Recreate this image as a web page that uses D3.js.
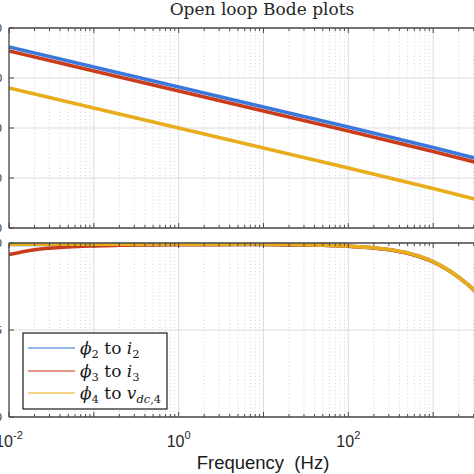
<!DOCTYPE html>
<html>
<head>
<meta charset="utf-8">
<script src="https://cdn.jsdelivr.net/npm/d3@7"></script>
<style>
  html, body { margin: 0; padding: 0; background: #fff; }
  svg { display: block; }
</style>
</head>
<body>
<svg id="chart" width="474" height="474"></svg>
<script>
// ---------------- data ----------------
const freqMag = [0.01, 0.1, 1, 10, 100, 1000, 10000];
const magBlue = [31, 11, -9, -29, -49, -69.5, -91];
const magRed = [27, 7, -13, -33, -53, -73.5, -95];
const magYellow = [-10, -30, -50, -70, -90, -110.5, -132];

const freqPh = [0.01, 0.02, 0.05, 0.1, 0.2, 0.5, 1, 2, 5, 10, 20, 50, 100, 200, 300, 500, 700, 1000, 1500, 2000, 3000, 5000, 10000];
const phBlue = [-90.8, -90.8, -90.8, -90.8, -90.8, -90.8, -90.8, -90.8, -90.8, -90.8, -91, -91.2, -91.7, -92.6, -93.5, -95.3, -97.1, -99.8, -104, -107.8, -114.2, -126, -145];
const phRed = [-96, -93.5, -92, -91.5, -91.2, -91, -90.9, -90.9, -90.8, -90.8, -91, -91.2, -91.7, -92.6, -93.5, -95.3, -97.1, -99.8, -104, -107.8, -114.2, -126, -145];
const phYellow = [-90.6, -90.6, -90.6, -90.6, -90.6, -90.6, -90.6, -90.6, -90.6, -90.7, -90.8, -91.1, -91.6, -92.5, -93.4, -95.2, -97, -99.7, -103.9, -107.7, -114.1, -125.9, -144.9];

const magTicks = [50, 0, -50, -100, -150];
const phTicks = [-90, -135, -180];
const xLabelDecades = [-2, 0, 2, 4];

const seriesColors = ["#3a78dc", "#c93c1c", "#e8ad1c"];
const legendLabels = [
  {sym: "\u03D5", sub1: "2", tgt: "i", sub2: [{t: "2", it: false}]},
  {sym: "\u03D5", sub1: "3", tgt: "i", sub2: [{t: "3", it: false}]},
  {sym: "\u03D5", sub1: "4", tgt: "v", sub2: [{t: "dc", it: true}, {t: ",4", it: false}]}
];

// ---------------- layout ----------------
const svg = d3.select("#chart");
svg.append("rect").attr("width", 474).attr("height", 474).attr("fill", "#fff");

const x = d3.scaleLog().domain([1e-2, 1e4]).range([9, 518]);
const yMag = d3.scaleLinear().domain([-150, 50]).range([228, 28]);
const yPh = d3.scaleLinear().domain([-180, -90]).range([417, 243]);

const axisCol = "#4a4a4a";
const gridCol = "#dcdcdc";

const majorDec = d3.range(-2, 5).map(e => Math.pow(10, e));
const minorF = [];
d3.range(-2, 4).forEach(e => { for (let k = 2; k <= 9; k++) minorF.push(k * Math.pow(10, e)); });

function drawPanel(y, ticks, top, bottom, clipId) {
  const g = svg.append("g");
  const left = 9, right = 520;
  g.selectAll(".mg").data(minorF).enter().append("line")
    .attr("x1", d => x(d)).attr("x2", d => x(d)).attr("y1", top).attr("y2", bottom)
    .attr("stroke", "#d4d4d4").attr("stroke-width", 1).attr("stroke-dasharray", "1,2.5");
  g.selectAll(".Mg").data(majorDec).enter().append("line")
    .attr("x1", d => x(d)).attr("x2", d => x(d)).attr("y1", top).attr("y2", bottom)
    .attr("stroke", gridCol).attr("stroke-width", 1);
  g.selectAll(".hg").data(ticks).enter().append("line")
    .attr("x1", left).attr("x2", right).attr("y1", d => y(d)).attr("y2", d => y(d))
    .attr("stroke", gridCol).attr("stroke-width", 1);
  svg.append("clipPath").attr("id", clipId).append("rect")
    .attr("x", left).attr("y", top).attr("width", right - left).attr("height", bottom - top);
  return g;
}

function drawFrame(y, ticks, top, bottom) {
  const g = svg.append("g");
  const left = 9, right = 520;
  const tickSets = [{d: majorDec, L: 5}, {d: minorF, L: 3}];
  tickSets.forEach(ts => {
    g.selectAll(null).data(ts.d).enter().append("line")
      .attr("x1", d => x(d)).attr("x2", d => x(d)).attr("y1", bottom).attr("y2", bottom - ts.L)
      .attr("stroke", axisCol).attr("stroke-width", 1);
    g.selectAll(null).data(ts.d).enter().append("line")
      .attr("x1", d => x(d)).attr("x2", d => x(d)).attr("y1", top).attr("y2", top + ts.L)
      .attr("stroke", axisCol).attr("stroke-width", 1);
  });
  g.selectAll(null).data(ticks).enter().append("line")
    .attr("x1", left).attr("x2", left + 5).attr("y1", d => y(d)).attr("y2", d => y(d))
    .attr("stroke", axisCol).attr("stroke-width", 1);
  // y tick labels (cut off at the left edge as in the reference)
  g.selectAll(null).data(ticks).enter().append("text")
    .attr("x", 2).attr("y", d => y(d)).attr("dy", "0.35em").attr("text-anchor", "end")
    .attr("font-family", "Liberation Sans, Arial, sans-serif").attr("font-size", 11)
    .attr("fill", "#262626").text(d => d);
  g.append("line").attr("x1", left).attr("x2", right).attr("y1", top).attr("y2", top)
    .attr("stroke", axisCol).attr("stroke-width", 1.3);
  g.append("line").attr("x1", left).attr("x2", right).attr("y1", bottom).attr("y2", bottom)
    .attr("stroke", axisCol).attr("stroke-width", 1.3);
  g.append("line").attr("x1", left).attr("x2", left).attr("y1", top).attr("y2", bottom)
    .attr("stroke", axisCol).attr("stroke-width", 1.3);
}

// ---- magnitude panel ----
drawPanel(yMag, magTicks, 28, 228, "clipMag");
const magSeries = [magBlue, magRed, magYellow];
const lineMag = d3.line().x(d => x(d[0])).y(d => yMag(d[1]));
magSeries.forEach((s, i) => {
  svg.append("path").attr("clip-path", "url(#clipMag)")
    .datum(freqMag.map((f, j) => [f, s[j]]))
    .attr("d", lineMag).attr("fill", "none")
    .attr("stroke", seriesColors[i]).attr("stroke-width", 3.6);
});
drawFrame(yMag, magTicks, 28, 228);

// ---- phase panel ----
drawPanel(yPh, phTicks, 243, 417, "clipPh");
const phSeries = [phBlue, phRed, phYellow];
const linePh = d3.line().curve(d3.curveMonotoneX).x(d => x(d[0])).y(d => yPh(d[1]));
phSeries.forEach((s, i) => {
  svg.append("path").attr("clip-path", "url(#clipPh)")
    .datum(freqPh.map((f, j) => [f, s[j]]))
    .attr("d", linePh).attr("fill", "none")
    .attr("stroke", seriesColors[i]).attr("stroke-width", 3.6);
});
drawFrame(yPh, phTicks, 243, 417);

// x tick labels
const xl = svg.append("g").attr("font-family", "Liberation Sans, Arial, sans-serif").attr("fill", "#262626");
xLabelDecades.forEach(e => {
  const t = xl.append("text").attr("x", x(Math.pow(10, e))).attr("y", 447)
    .attr("text-anchor", "middle").attr("font-size", 16);
  t.append("tspan").text("10");
  t.append("tspan").attr("font-size", 11).attr("dy", -8).text(e < 0 ? "-" + (-e) : String(e));
});

// axis label
svg.append("text").attr("x", 263).attr("y", 469).attr("text-anchor", "middle")
  .attr("font-family", "Liberation Sans, Arial, sans-serif").attr("font-size", 18.5)
  .attr("fill", "#1a1a1a").attr("xml:space", "preserve").style("white-space", "pre")
  .text("Frequency  (Hz)");

// title
svg.append("text").attr("x", 262).attr("y", 15).attr("text-anchor", "middle")
  .attr("font-family", "DejaVu Serif, serif").attr("font-size", 17)
  .attr("fill", "#262626").text("Open loop Bode plots");

// legend
const lg = svg.append("g");
lg.append("rect").attr("x", 23).attr("y", 333).attr("width", 144).attr("height", 76)
  .attr("fill", "#fff").attr("stroke", "#1a1a1a").attr("stroke-width", 1.2);
const rowY = [348, 371, 393];
legendLabels.forEach((lab, i) => {
  lg.append("line").attr("x1", 28).attr("x2", 75).attr("y1", rowY[i]).attr("y2", rowY[i])
    .attr("stroke", seriesColors[i]).attr("stroke-width", 1.5).attr("opacity", 0.7);
  const t = lg.append("text").attr("x", 80).attr("y", rowY[i] + 6)
    .attr("font-family", "DejaVu Serif, serif").attr("font-size", 17).attr("fill", "#1a1a1a");
  t.append("tspan").attr("font-style", "italic").text(lab.sym);
  t.append("tspan").attr("font-size", 11.5).attr("dy", 4).text(lab.sub1);
  t.append("tspan").attr("dy", -4).text(" to ");
  t.append("tspan").attr("font-style", "italic").text(lab.tgt);
  lab.sub2.forEach((s, k) => {
    t.append("tspan").attr("font-size", 11.5).attr("dy", k === 0 ? 4 : 0)
      .attr("font-style", s.it ? "italic" : "normal").text(s.t);
  });
});
</script>
</body>
</html>
